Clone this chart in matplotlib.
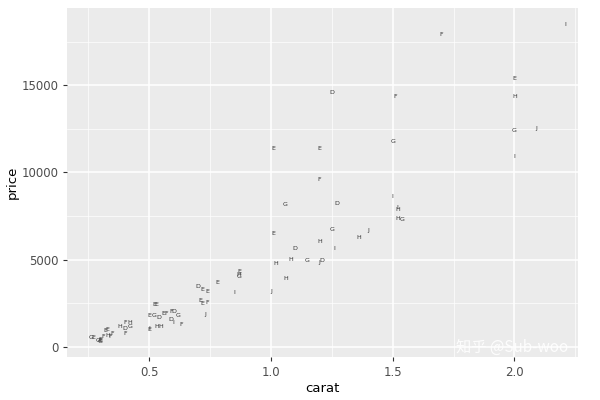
import matplotlib
matplotlib.use('Agg')
import matplotlib.pyplot as plt

carat = [2.21, 1.70, 2.00, 1.25, 1.51, 2.00, 1.01, 1.20, 1.50, 2.00, 2.09, 2.00,
         1.20, 1.06, 1.27, 1.50, 1.52, 1.52, 1.52, 1.54, 1.01, 1.25, 1.20, 1.40,
         1.36, 1.26, 1.10, 1.08, 1.02, 1.15, 1.20, 1.21, 1.06, 1.00,
         0.78, 0.85, 0.70, 0.72, 0.74, 0.71, 0.74, 0.72, 0.73,
         0.52, 0.53, 0.50, 0.52, 0.54, 0.56, 0.57, 0.59, 0.60, 0.62, 0.59, 0.60,
         0.63, 0.53, 0.55, 0.50, 0.50, 0.87, 0.87, 0.87,
         0.40, 0.42, 0.38, 0.40, 0.42, 0.40, 0.32, 0.33, 0.35, 0.33,
         0.26, 0.27, 0.29, 0.30, 0.31, 0.34, 0.30, 0.30]
price = [18500, 17880, 15410, 14600, 14330, 14330, 11400, 11400, 11750, 12430, 12490, 10890,
         9570, 8190, 8250, 8600, 8000, 7900, 7390, 7280, 6530, 6760, 6070, 6650,
         6300, 5670, 5620, 4990, 4810, 4930, 4870, 4930, 3950, 3210,
         3670, 3100, 3440, 3270, 3210, 2690, 2580, 2500, 1890,
         2460, 2460, 1830, 1830, 1720, 1900, 1950, 2060, 2060, 1830, 1600, 1380,
         1320, 1200, 1200, 1050, 1000, 4300, 4150, 4050,
         1430, 1380, 1150, 1090, 1150, 800, 970, 1000, 800, 690,
         570, 560, 400, 460, 630, 630, 350, 300]
color = ['I', 'F', 'E', 'D', 'F', 'H', 'E', 'E', 'G', 'G', 'J', 'I',
         'F', 'G', 'D', 'I', 'I', 'H', 'H', 'G', 'E', 'G', 'H', 'J',
         'H', 'I', 'D', 'H', 'H', 'G', 'J', 'D', 'H', 'J',
         'E', 'I', 'D', 'E', 'E', 'E', 'F', 'E', 'J',
         'E', 'E', 'E', 'G', 'D', 'E', 'F', 'F', 'D', 'G', 'D', 'I',
         'F', 'H', 'H', 'I', 'E', 'E', 'H', 'G',
         'F', 'H', 'H', 'D', 'G', 'F', 'E', 'E', 'F', 'H',
         'G', 'E', 'G', 'E', 'F', 'F', 'E', 'G']

fig = plt.figure(figsize=(6, 4), dpi=100)
ax = fig.add_axes([0.112, 0.1075, 0.851, 0.8725])
ax.set_facecolor('#EBEBEB')
for s in ax.spines.values():
    s.set_visible(False)

for x, y, c in zip(carat, price, color):
    ax.text(x, y, c, fontsize=4.5, color='#333333', ha='center', va='center')

ax.set_xlim(0.164, 2.26)
ax.set_ylim(-570, 19420)
ax.set_xticks([0.5, 1.0, 1.5, 2.0])
ax.set_xticklabels(['0.5', '1.0', '1.5', '2.0'])
ax.set_yticks([0, 5000, 10000, 15000])
ax.set_xticks([0.25, 0.75, 1.25, 1.75, 2.25], minor=True)
ax.set_yticks([2500, 7500, 12500, 17500], minor=True)
ax.grid(which='major', color='white', linewidth=1.1)
ax.grid(which='minor', color='white', linewidth=0.5)
ax.set_axisbelow(True)
ax.tick_params(which='major', colors='#333333', labelsize=8.5, length=3, labelcolor='#4D4D4D')
ax.tick_params(which='minor', length=0)
ax.set_xlabel('carat', fontsize=9.5, labelpad=2)
ax.set_ylabel('price', fontsize=9.5, labelpad=2)

fig.text(0.76, 0.12, '知乎 @Sub-woo', fontsize=11, color='white', alpha=0.9,
         family=['Noto Sans CJK SC', 'DejaVu Sans'])

plt.savefig('out.png', dpi=100)
